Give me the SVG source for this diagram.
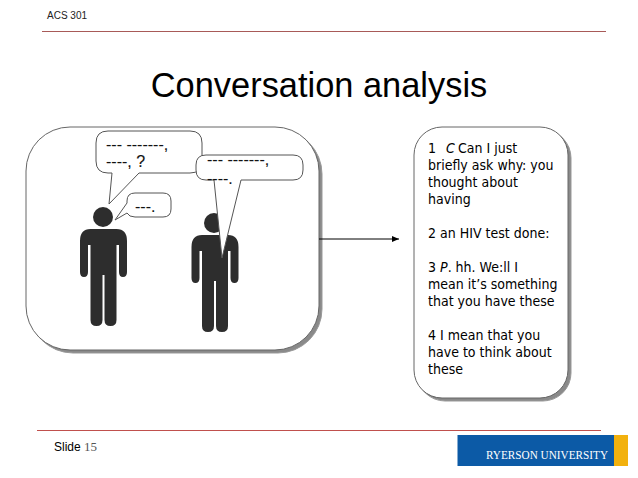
<svg xmlns="http://www.w3.org/2000/svg" width="638" height="478" viewBox="0 0 638 478">
<style>
.box{fill:#fff;stroke:#666;stroke-width:1}
.shadow{fill:#8a8a8a;stroke:#999;stroke-width:1}
.bubble{fill:#fff;stroke:#555;stroke-width:1;stroke-linejoin:round}
.rule{stroke:#c0504d;stroke-width:1;fill:none}
.sans{font-family:"Liberation Sans",Arial,sans-serif}
.body{font-family:"DejaVu Sans",Verdana,sans-serif;font-stretch:condensed;font-size:14px;fill:#000}
.b{font-family:"Liberation Sans",Arial,sans-serif;font-size:16px;fill:#111;stroke:#111;stroke-width:.12}
</style>
<defs>
<marker id="arrow" markerWidth="8" markerHeight="8" refX="7" refY="3" orient="auto" markerUnits="userSpaceOnUse"><path d="M0,0L7,3L0,6z" fill="#000"/></marker>
<path id="person" fill="#2d2d2d" d="M-13,0H13Q23.5,0 23.5,12V43Q23.5,48 19.5,48Q15.5,48 15.5,43V16H13V91Q13,97 7,97Q1,97 1,91V46H-1V91Q-1,97 -7,97Q-13,97 -13,91V16H-15.5V43Q-15.5,48 -19.5,48Q-23.5,48 -23.5,43V12Q-23.5,0 -13,0Z"/>
</defs>
<rect width="638" height="478" fill="#fff"/>
<g id="header">
<text class="sans" x="47" y="19" font-size="10" fill="#222">ACS 301</text>
<line x1="42" y1="31.500" x2="606" y2="31.500" stroke="#a85a58" stroke-width="1"/>
<text class="sans" x="319" y="97" font-size="34.400" text-anchor="middle" fill="#000">Conversation analysis</text>
</g>
<g id="scene-box">
<rect class="shadow" x="29" y="130" width="293" height="223" rx="44"/>
<rect class="box" x="26" y="127" width="293" height="223" rx="44"/>
</g>
<g id="person-left">
<circle cx="103" cy="217" r="10" fill="#2d2d2d"/>
<use href="#person" x="103.500" y="229"/>
</g>
<g id="person-right">
<circle cx="214" cy="223" r="10" fill="#2d2d2d"/>
<use href="#person" x="215" y="235"/>
</g>
<g id="bubble-question">
<path class="bubble" d="M108,131H190Q202,131 202,143V161Q202,173 190,173H139L109,204L112,173H108Q96,173 96,161V143Q96,131 108,131Z"/>
<text class="b" x="106" y="150">--- -------,</text>
<text class="b" x="106" y="167">----, ?</text>
</g>
<g id="bubble-short">
<path class="bubble" d="M135,193H163Q171,193 171,201V209Q171,217 163,217H135Q129,217 127,213L115,220L127,203V201Q127,193 135,193Z"/>
<text class="b" x="135" y="212">---.</text>
</g>
<g id="bubble-answer">
<path class="bubble" d="M206,155H293Q303,155 303,165V170Q303,180 293,180H241L222,258L214,180H206Q196,180 196,170V165Q196,155 206,155Z"/>
<text class="b" x="207" y="165">--- -------,</text>
<text class="b" x="207" y="184">----.</text>
</g>
<g id="connectors">
<line x1="319" y1="239" x2="399" y2="239" stroke="#000" stroke-width="1" marker-end="url(#arrow)"/>
</g>
<g id="transcript-box">
<rect class="shadow" x="417" y="130" width="154" height="271" rx="28"/>
<rect class="box" x="414" y="127" width="154" height="271" rx="28"/>
<text class="body" x="428" y="153">1</text>
<text class="body" x="446" y="153" font-style="italic">C</text>
<text class="body" x="458" y="153">Can I just</text>
<text class="body" x="428" y="170">briefly ask why: you</text>
<text class="body" x="428" y="187">thought about</text>
<text class="body" x="428" y="204">having</text>
<text class="body" x="428" y="238">2 an HIV test done:</text>
<text class="body" x="428" y="272">3 <tspan font-style="italic">P</tspan>. hh. We:ll I</text>
<text class="body" x="428" y="289">mean it’s something</text>
<text class="body" x="428" y="306">that you have these</text>
<text class="body" x="428" y="340">4 I mean that you</text>
<text class="body" x="428" y="357">have to think about</text>
<text class="body" x="428" y="374">these</text>
</g>
<g id="footer">
<line class="rule" x1="37" y1="430.500" x2="601" y2="430.500"/>
<text class="sans" x="54" y="451" font-size="12" fill="#000">Slide</text>
<text x="84" y="451" font-family="Liberation Serif,serif" font-size="13" fill="#555">15</text>
</g>
<g id="logo">
<rect x="457.500" y="435" width="156.500" height="31" fill="#0c5aa6"/>
<rect x="614" y="435" width="14" height="31" fill="#f2b10e"/>
<text x="486" y="459" font-family="Liberation Serif,serif" font-size="13.500" fill="#fff" textLength="122" lengthAdjust="spacingAndGlyphs">RYERSON UNIVERSITY</text>
</g>
</svg>
